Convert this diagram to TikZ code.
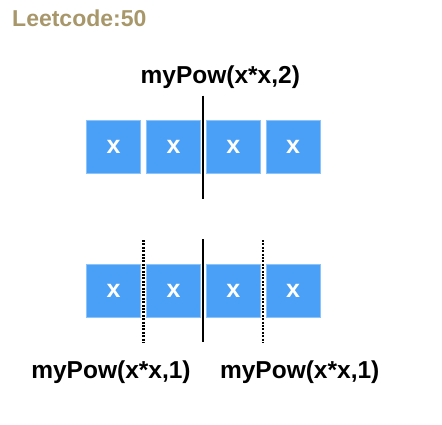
\documentclass[tikz,border=0pt]{standalone}
\usepackage{fontspec}
\setmainfont{Liberation Sans}
\definecolor{boxblue}{HTML}{4A9FF7}
\definecolor{boxedge}{HTML}{8CC4FA}
\definecolor{titlegold}{HTML}{A8976A}
\begin{document}
\begin{tikzpicture}[x=1pt,y=-1pt,
  cellbg/.style={draw=boxedge,line width=0.8pt,fill=boxblue,minimum width=54pt,minimum height=53pt,inner sep=0pt},
  cellx/.style={text=white,inner sep=0pt,font=\fontsize{25}{25}\selectfont\bfseries},
  lbl/.style={font=\fontsize{24.5}{24.5}\selectfont\bfseries,inner sep=0pt,anchor=base},
  splitline/.style={line width=2pt,black},
  dotline/.style={line width=2.2pt,black,dash pattern=on 2pt off 1.4pt}
]
\useasboundingbox (0,0) rectangle (442,425);
\node[anchor=base west,inner sep=0pt,text=titlegold,font=\fontsize{23}{23}\selectfont\bfseries] (title) at (12,26.7) {Leetcode:50};
% top row
\node[lbl] (top) at (220.3,83.3) {myPow(x*x,2)};
\foreach \n/\x in {1/113.7,2/173.5,3/233.3,4/293}{
  \node[cellbg] (a\n) at (\x,147.3) {};
  \node[cellx] (ax\n) at (a\n) {x};
  \node[cellbg] (b\n) at (\x,290.5) {};
  \node[cellx] (bx\n) at (b\n) {x};
}
\coordinate (t1) at (203.3,95.7);
\coordinate (t2) at (203.3,199);
\draw[splitline] (t1) -- (t2);
\coordinate (m1) at (203.3,239);
\coordinate (m2) at (203.3,342);
\draw[splitline] (m1) -- (m2);
\coordinate (l1) at (143.5,240);
\coordinate (l2) at (143.5,343);
\draw[dotline] (l1) -- (l2);
\coordinate (r1) at (263,240);
\coordinate (r2) at (263,343);
\draw[dotline] (r1) -- (r2);
\node[lbl] (lowL) at (111,378) {myPow(x*x,1)};
\node[lbl] (lowR) at (299.7,378) {myPow(x*x,1)};
\end{tikzpicture}
\end{document}
